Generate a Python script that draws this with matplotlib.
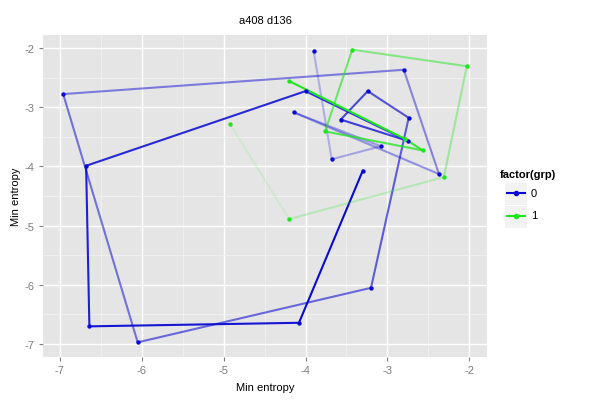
import matplotlib
matplotlib.use("Agg")
import matplotlib.pyplot as plt
import numpy as np
from matplotlib.collections import LineCollection
from matplotlib.colors import to_rgba
from matplotlib.lines import Line2D
from matplotlib.patches import Rectangle

plt.rcParams["font.family"] = ["Liberation Sans", "DejaVu Sans"]

# path of group 0 (in drawing order)
x0 = [-3.90, -3.68, -3.08, -4.14, -2.37, -2.80, -6.96, -6.05, -3.20,
      -2.74, -3.24, -3.57, -2.75, -4.00, -6.68, -6.64, -4.08, -3.30]
y0 = [-2.06, -3.88, -3.66, -3.09, -4.13, -2.37, -2.78, -6.97, -6.05,
      -3.18, -2.73, -3.21, -3.57, -2.73, -3.99, -6.70, -6.64, -4.07]

# path of group 1
x1 = [-4.92, -4.20, -2.31, -2.03, -3.43, -3.76, -2.57, -2.78, -4.20]
y1 = [-3.29, -4.89, -4.18, -2.31, -2.03, -3.41, -3.73, -3.54, -2.56]

groups = ["0", "1"]
colours = ["#0A0AD2", "#1EE61E"]

fig = plt.figure(figsize=(5.9, 4.02), dpi=100)
ax = fig.add_axes([0.0729, 0.1095, 0.7525, 0.8009])
ax.set_facecolor("#E5E5E5")


def draw_path(xs, ys, col, a_min):
    pts = np.column_stack([xs, ys])
    segs = np.stack([pts[:-1], pts[1:]], axis=1)
    n = len(segs)
    alphas = a_min + (1 - a_min) * np.arange(n) / (n - 1)
    cols = [to_rgba(col, a) for a in alphas]
    ax.add_collection(LineCollection(segs, colors=cols, linewidths=1.5,
                                     capstyle="round", zorder=3))


draw_path(x0, y0, colours[0], 0.25)
draw_path(x1, y1, colours[1], 0.1)
ax.scatter(x0, y0, s=10, color=colours[0], zorder=4, linewidths=0)
ax.scatter(x1, y1, s=10, color=colours[1], zorder=4, linewidths=0)

allx = x0 + x1
ally = y0 + y1
dx = (max(allx) - min(allx)) * 0.05
dy = (max(ally) - min(ally)) * 0.05
ax.set_xlim(min(allx) - dx, max(allx) + dx)
ax.set_ylim(min(ally) - dy, max(ally) + dy)

ax.set_xticks(np.arange(-7, -1, 1))
ax.set_yticks(np.arange(-7, -1, 1))
ax.set_xticks(np.arange(-6.5, -1.5, 1), minor=True)
ax.set_yticks(np.arange(-6.5, -1.5, 1), minor=True)
ax.set_xticklabels([str(v) for v in range(-7, -1)])
ax.set_yticklabels([str(v) for v in range(-7, -1)])
ax.grid(which="major", color="white", linewidth=1.0, zorder=1)
ax.grid(which="minor", color="#F2F2F2", linewidth=0.6, zorder=1)
ax.set_axisbelow(True)
for s in ax.spines.values():
    s.set_visible(False)
ax.tick_params(which="major", length=3, color="#7F7F7F", labelcolor="#7F7F7F",
               labelsize=8, width=0.8, pad=3)
ax.tick_params(which="minor", length=0)

ax.set_xlabel("Min entropy", fontsize=8, labelpad=5)
ax.set_ylabel("Min entropy", fontsize=8, labelpad=3)
ax.set_title("a408 d136", fontsize=8, pad=9)

# legend drawn in figure pixels
W, H = 590, 402
fig.text(500 / W, 1 - 175 / H, "factor(grp)", fontsize=8, fontweight="bold",
         va="center", ha="left")
for i, (lab, col) in enumerate(zip(groups, colours)):
    top = 184 + i * 22.5
    fig.add_artist(Rectangle((505 / W, 1 - (top + 22) / H), 22 / W, 22 / H,
                             transform=fig.transFigure, facecolor="#F2F2F2",
                             edgecolor="none"))
    yc = 1 - (top + 10) / H
    fig.add_artist(Line2D([507 / W, 525 / W], [yc, yc], transform=fig.transFigure,
                          color=col, linewidth=1.5))
    fig.add_artist(Line2D([516 / W], [yc], transform=fig.transFigure,
                          color=col, marker="o", markersize=3, linewidth=0))
    fig.text(531 / W, yc, lab, fontsize=8, va="center", ha="left")

fig.savefig("out.png", dpi=100)
